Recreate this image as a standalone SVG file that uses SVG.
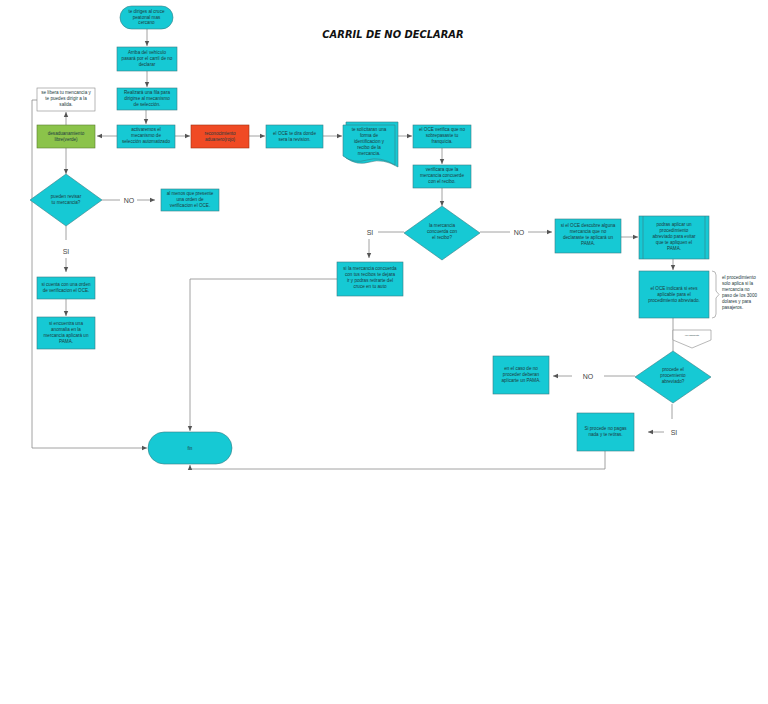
<svg xmlns="http://www.w3.org/2000/svg" width="768" height="704" viewBox="0 0 768 704">
<style>
.n{fill:#16c9d4;stroke:#3a7d84;stroke-width:0.6}
.t{font-family:"Liberation Sans",Arial,sans-serif;font-size:4.6px;fill:#1d3b40;text-anchor:middle}
.l{font-family:"Liberation Sans",Arial,sans-serif;font-size:7px;fill:#444;text-anchor:middle}
.c{fill:none;stroke:#8a8a8a;stroke-width:0.8}
</style>
<defs><marker id="a" markerWidth="6" markerHeight="6" refX="5" refY="3" orient="auto" markerUnits="userSpaceOnUse"><path d="M0,0.8L5,3L0,5.2z" fill="#555"/></marker></defs>
<rect width="768" height="704" fill="#fff"/>
<text x="393" y="38" font-family="DejaVu Sans Condensed,DejaVu Sans,sans-serif" font-weight="bold" font-style="italic" font-size="11" text-anchor="middle" fill="#111">CARRIL DE NO DECLARAR</text>
<g id="connectors">
<path class="c" d="M147,29V46" marker-end="url(#a)"/>
<path class="c" d="M147,71V87" marker-end="url(#a)"/>
<path class="c" d="M146,110V124" marker-end="url(#a)"/>
<path class="c" d="M117,136H97" marker-end="url(#a)"/>
<path class="c" d="M175,136H190" marker-end="url(#a)"/>
<path class="c" d="M66,125V112" marker-end="url(#a)"/>
<path class="c" d="M66,148V174" marker-end="url(#a)"/>
<path class="c" d="M249,136H265" marker-end="url(#a)"/>
<path class="c" d="M323,136H342" marker-end="url(#a)"/>
<path class="c" d="M398,136H412" marker-end="url(#a)"/>
<path class="c" d="M442,148V164" marker-end="url(#a)"/>
<path class="c" d="M442,188V206" marker-end="url(#a)"/>
<path class="c" d="M404,232H378"/>
<path class="c" d="M369,239V258" marker-end="url(#a)"/>
<path class="c" d="M480,232H510"/>
<path class="c" d="M528,232H552" marker-end="url(#a)"/>
<path class="c" d="M621,237H638" marker-end="url(#a)"/>
<path class="c" d="M673,259V270" marker-end="url(#a)"/>
<path class="c" d="M673,318V351"/>
<path class="c" d="M635,376H604"/>
<path class="c" d="M572,376H553" marker-end="url(#a)"/>
<path class="c" d="M672,404V419"/>
<path class="c" d="M664,432H648" marker-end="url(#a)"/>
<path class="c" d="M605,451V469H190V465" marker-end="url(#a)"/>
<path class="c" d="M337,279H190V431" marker-end="url(#a)"/>
<path class="c" d="M37,100H32V448H147" marker-end="url(#a)"/>
<path class="c" d="M102,200H120"/>
<path class="c" d="M137,200H155" marker-end="url(#a)"/>
<path class="c" d="M66,226V240"/>
<path class="c" d="M66,258V272" marker-end="url(#a)"/>
<path class="c" d="M66,299V316" marker-end="url(#a)"/>
<text class="l" x="129" y="203">NO</text>
<text class="l" x="66" y="254">SI</text>
<text class="l" x="370" y="235">SI</text>
<text class="l" x="519" y="235">NO</text>
<text class="l" x="588" y="379">NO</text>
<text class="l" x="674" y="435">SI</text>
</g>
<g id="start"><rect class="n" x="120" y="6" width="53" height="23" rx="11.5"/><text class="t" x="146.5" y="13">te diriges al cruce</text><text class="t" x="146.5" y="18.5">peatonal mas</text><text class="t" x="146.5" y="24">cercano</text></g>
<g id="b1"><rect class="n" x="117" y="47" width="60" height="24"/><text class="t" x="147" y="54">Arriba del vehículo</text><text class="t" x="147" y="60">pasará por el carril de no</text><text class="t" x="147" y="66">declarar</text></g>
<g id="b2"><rect class="n" x="117" y="88" width="60" height="22"/><text class="t" x="147" y="94">Realizará una fila para</text><text class="t" x="147" y="100">dirigirse al mecanismo</text><text class="t" x="147" y="106">de selección.</text></g>
<g id="b3"><rect class="n" x="117" y="125" width="58" height="23"/><text class="t" x="146" y="131">activaremos el</text><text class="t" x="146" y="137">mecanismo de</text><text class="t" x="146" y="143">selección automatizado</text></g>
<g id="green"><rect x="37" y="125" width="58" height="23" fill="#8bc34a" stroke="#5a7d30" stroke-width="0.6"/><text class="t" x="66" y="135">desaduanamiento</text><text class="t" x="66" y="141">libre(verde)</text></g>
<g id="white"><rect x="37" y="88" width="58" height="23" fill="#fff" stroke="#888" stroke-width="0.6"/><text class="t" x="66" y="94">se libera tu mencancia y</text><text class="t" x="66" y="100">te puedes dirigir a la</text><text class="t" x="66" y="106">salida.</text></g>
<g id="red"><rect x="191" y="125" width="58" height="23" fill="#f04a24" stroke="#a03010" stroke-width="0.6"/><text class="t" x="220" y="135">reconocimiento</text><text class="t" x="220" y="141">aduanero(rojo)</text></g>
<g id="oce1"><rect class="n" x="266" y="125" width="57" height="23"/><text class="t" x="294.5" y="135">el OCE te dira donde</text><text class="t" x="294.5" y="141">sera la revision.</text></g>
<g id="doc"><path class="n" d="M346,122H398V167Q383,158 370,162T346,158z"/><path class="n" d="M343,125H395V165Q380,156 367,160T343,156z"/><text class="t" x="369" y="131">te solicitaran una</text><text class="t" x="369" y="137">forma de</text><text class="t" x="369" y="143">identificacion y</text><text class="t" x="369" y="149">recibo de la</text><text class="t" x="369" y="155">mercancia.</text></g>
<g id="fr"><rect class="n" x="413" y="125" width="58" height="23"/><text class="t" x="442" y="131">el OCE verifica que no</text><text class="t" x="442" y="137">sobrepasaste tu</text><text class="t" x="442" y="143">franquicia.</text></g>
<g id="ver"><rect class="n" x="413" y="165" width="58" height="23"/><text class="t" x="442" y="171">verificara que la</text><text class="t" x="442" y="177">mercancia concuerde</text><text class="t" x="442" y="183">con el recibo.</text></g>
<g id="d1"><path class="n" d="M442,206L480,233L442,260L404,233z"/><text class="t" x="442" y="227">la mercancia</text><text class="t" x="442" y="233">concuerda con</text><text class="t" x="442" y="239">el recibo?</text></g>
<g id="siok"><rect class="n" x="337" y="262" width="66" height="34"/><text class="t" x="370" y="270">si la mercancia concuerda</text><text class="t" x="370" y="276">con tus recibos te dejara</text><text class="t" x="370" y="282">ir y podras retirarte del</text><text class="t" x="370" y="288">cruce en tu auto</text></g>
<g id="pama1"><rect class="n" x="555" y="219" width="66" height="34"/><text class="t" x="588" y="227">si el OCE descubre alguna</text><text class="t" x="588" y="233">mercancia que no</text><text class="t" x="588" y="239">declaraste te aplicará un</text><text class="t" x="588" y="245">PAMA.</text></g>
<g id="abr"><rect class="n" x="639" y="216" width="70" height="43"/><path d="M643,216V259M705,216V259" stroke="#3a7d84" stroke-width="0.6"/><text class="t" x="674" y="226">podras aplicar un</text><text class="t" x="674" y="232">procedimiento</text><text class="t" x="674" y="238">abreviado para evitar</text><text class="t" x="674" y="244">que te apliquen el</text><text class="t" x="674" y="250">PAMA.</text></g>
<g id="ind"><rect class="n" x="639" y="271" width="70" height="47"/><text class="t" x="674" y="290">el OCE indicará si eres</text><text class="t" x="674" y="296">aplicable para el</text><text class="t" x="674" y="302">procedimiento abreviado.</text></g>
<g id="note"><path d="M712,271Q716,271 716,275V291L719,294.5L716,298V314Q716,318 712,318" fill="none" stroke="#888" stroke-width="0.6"/><g class="t" style="text-anchor:start"><text x="722" y="279">el procedimiento</text><text x="722" y="285">solo aplica si la</text><text x="722" y="291">mercancia no</text><text x="722" y="297">paso de los 3000</text><text x="722" y="303">dolares y para</text><text x="722" y="309">pasajeros.</text></g></g>
<g id="off"><path d="M673,330H711V340L692,348L673,340z" fill="#fff" stroke="#888" stroke-width="0.6"/><text class="t" x="692" y="336" style="font-size:2.5px">Ver siguiente</text></g>
<g id="d2"><path class="n" d="M673,351L711,377L673,403L635,377z"/><text class="t" x="673" y="371">procede el</text><text class="t" x="673" y="377">procemiento</text><text class="t" x="673" y="383">abreviado?</text></g>
<g id="nopama"><rect class="n" x="493" y="356" width="56" height="38"/><text class="t" x="521" y="370">en el caso de no</text><text class="t" x="521" y="376">proceder deberan</text><text class="t" x="521" y="382">aplicarte un PAMA.</text></g>
<g id="siproc"><rect class="n" x="577" y="413" width="57" height="38"/><text class="t" x="605.5" y="430">Si procede no pagas</text><text class="t" x="605.5" y="436">nada y te retiras.</text></g>
<g id="fin"><rect class="n" x="148" y="432" width="84" height="32" rx="16"/><text class="t" x="190" y="450">fin</text></g>
<g id="d3"><path class="n" d="M66,174L102,200L66,226L30,200z"/><text class="t" x="66" y="198">pueden revisar</text><text class="t" x="66" y="204">tu mercancia?</text></g>
<g id="menos"><rect class="n" x="161" y="189" width="58" height="22"/><text class="t" x="190" y="195">al menos que presente</text><text class="t" x="190" y="201">una orden de</text><text class="t" x="190" y="207">verificacion el OCE.</text></g>
<g id="orden"><rect class="n" x="37" y="277" width="58" height="22"/><text class="t" x="66" y="286">si cuenta con una orden</text><text class="t" x="66" y="292">de verificacion el OCE.</text></g>
<g id="anom"><rect class="n" x="37" y="317" width="58" height="32"/><text class="t" x="66" y="325">si encuentra una</text><text class="t" x="66" y="331">anomalia en la</text><text class="t" x="66" y="337">mercancia aplicará un</text><text class="t" x="66" y="343">PAMA.</text></g>
</svg>
